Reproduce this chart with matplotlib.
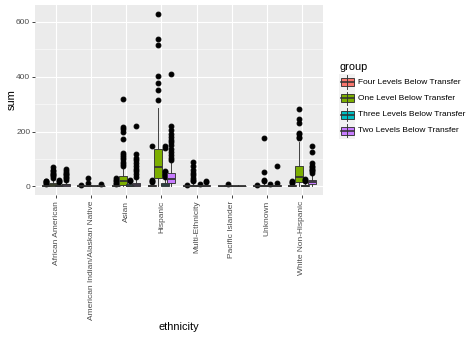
import matplotlib
matplotlib.use("Agg")
import matplotlib.pyplot as plt
from matplotlib.patches import Rectangle
from matplotlib.lines import Line2D

ethnicities = ["African American", "American Indian/Alaskan Native", "Asian",
               "Hispanic", "Multi-Ethnicity", "Pacific Islander", "Unknown",
               "White Non-Hispanic"]
groups = ["Four Levels Below Transfer", "One Level Below Transfer",
          "Three Levels Below Transfer", "Two Levels Below Transfer"]
group_colors = ["#F8766D", "#7CAE00", "#00BFC4", "#C77CFF"]

# Box summaries per ethnicity: (lower whisker, q1, median, q3, upper whisker)
four_box = [(0, 0, 1, 3, 7), (0, 0, 0, 1, 2), (0, 0, 1, 3, 7), (0, 0, 2, 5, 12),
            (0, 0, 0, 1, 2), (0, 0, 0, 1, 2), (0, 0, 1, 2, 4), (0, 0, 1, 4, 9)]
four_out = [[10, 12, 15, 18, 20], [4], [10, 14, 18, 25, 32], [15, 18, 22, 148],
            [4], [], [6], [12, 15, 20]]

one_box = [(0, 1, 5, 12, 28), (0, 0, 1, 3, 7), (0, 4, 18, 37, 64), (0, 30, 70, 136, 285),
           (0, 0, 2, 6, 14), (0, 0, 1, 3, 6), (0, 0, 2, 6, 14), (0, 16, 34, 75, 160)]
one_out = [[32, 36, 40, 45, 50, 55, 60, 72], [12, 30],
           [75, 82, 90, 98, 106, 114, 121, 172, 200, 210, 216, 318],
           [315, 350, 378, 404, 515, 538, 628],
           [20, 25, 32, 40, 50, 60, 76, 88], [10], [20, 25, 52, 178],
           [175, 180, 190, 196, 232, 244, 283]]

three_box = [(0, 0, 2, 5, 12), (0, 0, 0, 1, 2), (0, 0, 3, 8, 18), (0, 1, 4, 12, 28),
             (0, 0, 1, 3, 6), (0, 0, 0, 1, 2), (0, 0, 1, 3, 6), (0, 0, 2, 6, 14)]
three_out = [[15, 18, 22], [], [20, 24], [35, 40, 45, 52, 56, 140, 148],
             [8], [], [8], [18, 22, 26]]

two_box = [(0, 1, 4, 10, 22), (0, 0, 1, 3, 6), (0, 2, 5, 12, 28), (0, 11, 28, 47, 85),
           (0, 0, 2, 6, 12), (0, 0, 0, 1, 3), (0, 0, 1, 4, 9), (0, 7, 16, 24, 45)]
two_out = [[25, 30, 35, 40, 45, 50, 55, 62], [9],
           [35, 45, 55, 65, 75, 85, 95, 105, 117, 220],
           [95, 105, 115, 125, 135, 150, 160, 170, 180, 190, 205, 220, 410],
           [16, 20], [], [12, 76], [50, 55, 60, 65, 70, 75, 84, 126, 148]]

y_ticks = [0, 200, 400, 600]

W, H = 474, 338
plt.rcParams["font.family"] = ["Liberation Sans", "DejaVu Sans"]
fig = plt.figure(figsize=(W / 72, H / 72), dpi=72)

# panel placement in pixels
L, R, T, B = 35, 323, 5, 195
ax = fig.add_axes([L / W, 1 - B / H, (R - L) / W, (B - T) / H])
ax.set_facecolor("#EBEBEB")
for s in ax.spines.values():
    s.set_visible(False)

edge = "#333333"
dodge = 0.75
n = len(groups)
step = dodge / n
box_w = 0.225
all_box = [four_box, one_box, three_box, two_box]
all_out = [four_out, one_out, three_out, two_out]

for gi in range(n):
    off = -dodge / 2 + step * (gi + 0.5)
    stats = []
    for ei in range(len(ethnicities)):
        lo, q1, med, q3, hi = all_box[gi][ei]
        stats.append(dict(whislo=lo, q1=q1, med=med, q3=q3, whishi=hi,
                          fliers=all_out[gi][ei]))
    pos = [ei + 1 + off for ei in range(len(ethnicities))]
    ax.bxp(stats, positions=pos, widths=box_w, patch_artist=True, showcaps=False,
           boxprops=dict(facecolor=group_colors[gi], edgecolor=edge, linewidth=0.9),
           whiskerprops=dict(color=edge, linewidth=0.9),
           medianprops=dict(color=edge, linewidth=1.8),
           flierprops=dict(marker="o", markerfacecolor="black",
                           markeredgecolor="black", markersize=4.8, linestyle="none"),
           zorder=3, manage_ticks=False)

ax.set_xlim(0.4, len(ethnicities) + 0.6)
ax.set_ylim(-31.5, 661.5)
ax.set_xticks(range(1, len(ethnicities) + 1))
ax.set_xticklabels(ethnicities, rotation=90, fontsize=8.4, color="#4D4D4D")
ax.set_yticks(y_ticks)
ax.set_yticklabels([str(v) for v in y_ticks], fontsize=8.4, color="#4D4D4D")
ax.set_yticks([100, 300, 500], minor=True)
ax.tick_params(axis="both", which="major", length=2.75, width=0.9, color=edge, pad=2)
ax.tick_params(axis="x", which="major", pad=3)
ax.tick_params(axis="y", which="minor", length=0)
ax.grid(True, which="major", color="white", linewidth=1.1, zorder=0)
ax.grid(True, which="minor", axis="y", color="white", linewidth=0.55, zorder=0)
ax.set_axisbelow(True)

fig.text(179 / W, 1 - 327 / H, "ethnicity", fontsize=11, ha="center", va="center")
fig.text(12 / W, 1 - 100 / H, "sum", fontsize=11, ha="center", va="center", rotation=90)

# legend drawn in pixel space
def fx(x):
    return x / W

def fy(y):
    return 1 - y / H

fig.text(fx(339), fy(67), "group", fontsize=11, ha="left", va="center")
key = 16.3
for gi, (g, c) in enumerate(zip(groups, group_colors)):
    cy = 82 + gi * key
    x0, y0 = 339, cy - key / 2
    fig.patches.append(Rectangle((fx(x0), fy(y0 + key)), key / W, key / H,
                                 transform=fig.transFigure, facecolor="#F2F2F2",
                                 edgecolor="none"))
    xm = x0 + key / 2
    fig.lines.append(Line2D([fx(xm), fx(xm)], [fy(y0 + key * 0.1), fy(y0 + key * 0.9)],
                            transform=fig.transFigure, color=edge, linewidth=0.9))
    bx0, bx1 = x0 + key * 0.1, x0 + key * 0.9
    by0, by1 = y0 + key * 0.25, y0 + key * 0.75
    fig.patches.append(Rectangle((fx(bx0), fy(by1)), (bx1 - bx0) / W, (by1 - by0) / H,
                                 transform=fig.transFigure, facecolor=c,
                                 edgecolor=edge, linewidth=0.9))
    fig.lines.append(Line2D([fx(bx0), fx(bx1)], [fy(cy), fy(cy)],
                            transform=fig.transFigure, color=edge, linewidth=1.6))
    fig.text(fx(358), fy(cy), g, fontsize=8.4, ha="left", va="center")

fig.savefig("out.png", dpi=72)
